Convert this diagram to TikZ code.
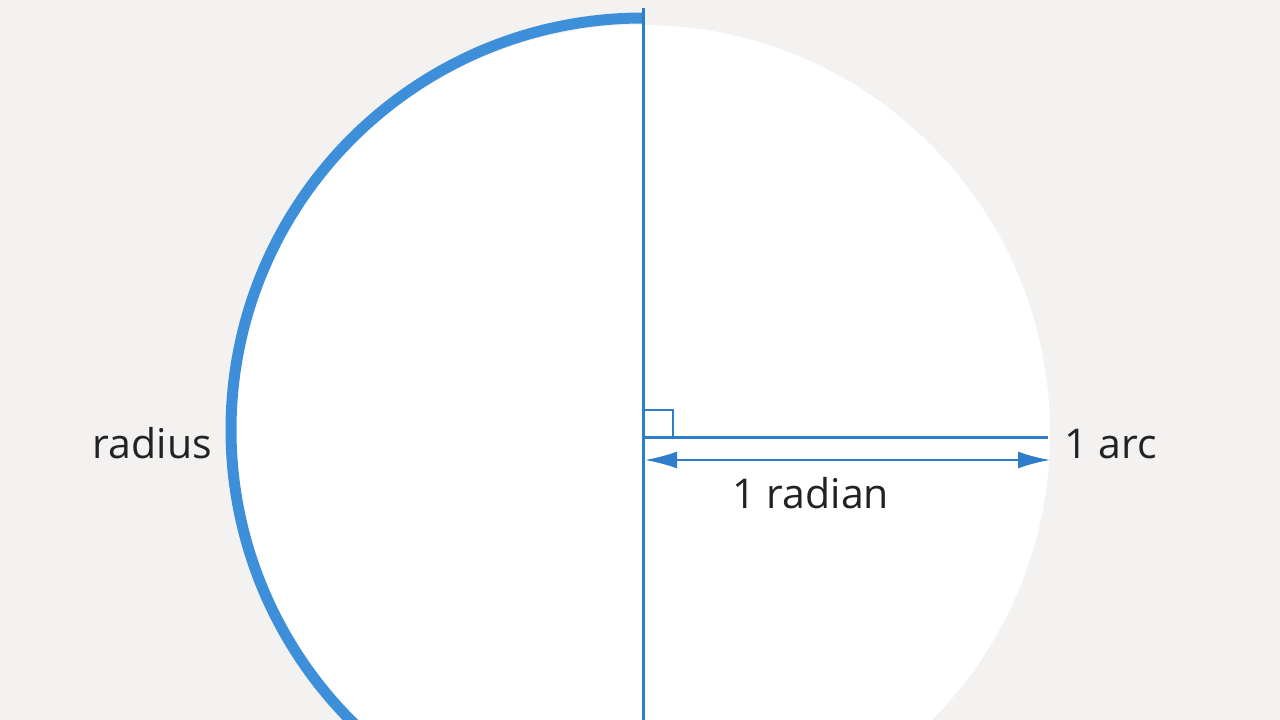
\documentclass[tikz,border=0pt]{standalone}
\usepackage{fontspec}
\setmainfont{Open Sans}
\usetikzlibrary{arrows.meta}
\definecolor{bg}{HTML}{F3F2F1}
\definecolor{arcblue}{HTML}{3D8FD9}
\definecolor{lineblue}{HTML}{2E7DCB}
\definecolor{txt}{HTML}{222222}
\tikzset{
  lbl/.style={text=txt, font=\fontsize{41}{46}\selectfont, inner sep=0pt},
  thinline/.style={draw=lineblue, line width=3pt},
  dimline/.style={draw=lineblue, line width=2pt, {Latex[length=32pt,width=17pt]}-{Latex[length=32pt,width=17pt]}}
}
\begin{document}
\begin{tikzpicture}[x=1pt,y=-1pt]
\useasboundingbox (0,0) rectangle (1280,720);
\fill[bg] (0,0) rectangle (1280,720);
\begin{scope}
\clip (0,0) rectangle (1280,720);
\coordinate (c) at (642,433);
\fill[white] (c) circle (408);
\draw[arcblue, line width=11pt] (643,18) arc[start angle=-90, end angle=-235, radius=412];
\coordinate (top) at (643,8);
\coordinate (bot) at (643,722);
\draw[thinline] (top) -- (bot);
\coordinate (r0) at (643,437);
\coordinate (r1) at (1048,437);
\draw[thinline] (r0) -- (r1);
\draw[lineblue, line width=2pt] (643,410) rectangle (673,437);
\coordinate (a0) at (645,460);
\coordinate (a1) at (1050,460);
\draw[dimline] (a0) -- (a1);
\end{scope}
\node[lbl, anchor=base east] (radius) at (212,458) {radius};
\node[lbl, anchor=base west] (arc) at (1064,458) {1 arc};
\node[lbl, anchor=base] (radian) at (811,508) {1 radian};
\end{tikzpicture}
\end{document}
